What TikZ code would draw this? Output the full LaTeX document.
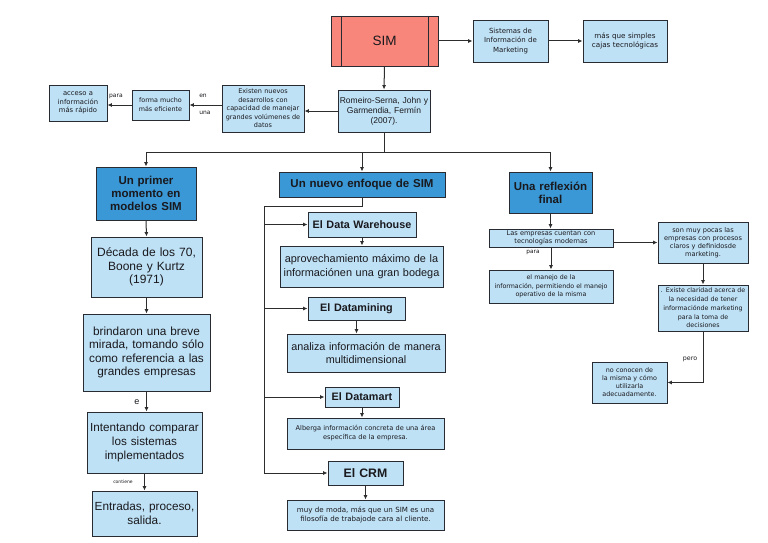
\documentclass[tikz,border=0pt]{standalone}
\usepackage{fontspec}
\setmainfont{Liberation Sans}
\newfontfamily\dv{DejaVu Sans}
\usetikzlibrary{arrows.meta}
\definecolor{lb}{RGB}{191,225,245}
\definecolor{db}{RGB}{58,152,214}
\definecolor{salm}{RGB}{248,134,122}
\definecolor{bordc}{RGB}{40,44,50}
\definecolor{linec}{RGB}{45,45,45}
\definecolor{txtc}{RGB}{25,25,30}
\newcommand\mybox[7]{%
 \pgfmathsetmacro\bxw{#4-#2}\pgfmathsetmacro\bxh{#5-#3}%
 \pgfmathsetmacro\bxcx{(#2+#4)/2}\pgfmathsetmacro\bxcy{-(#3+#5)/2}%
 \pgfmathsetmacro\bxtw{#4-#2-3}%
 \node[#6, minimum width=\bxw pt, minimum height=\bxh pt, text width=\bxtw pt, inner sep=0pt, align=center] (#1) at (\bxcx pt,\bxcy pt) {#7};}
\tikzset{
 base/.style={draw=bordc, line width=0.9pt, text=txtc},
 lbox/.style={base, fill=lb},
 hbox/.style={base, fill=db, font=\bfseries\fontsize{11.5}{13}\selectfont},
 sbox/.style={lbox, font=\bfseries\fontsize{10.8}{13}\selectfont},
 conn/.style={draw=linec, line width=1pt},
 arr/.style={conn, -{Latex[length=4.5pt,width=4pt]}},
 lbl/.style={text=txtc, inner sep=0pt},
}
\begin{document}
\begin{tikzpicture}[x=1pt,y=1pt]
\useasboundingbox (0,0) rectangle (768,-543);
% top
\mybox{sim}{331}{16}{438}{66}{base,fill=salm,font=\fontsize{13.5}{16}\selectfont}{SIM}
\draw[bordc, line width=0.9pt] ([xshift=11pt]sim.north west) -- ([xshift=11pt]sim.south west);
\draw[bordc, line width=0.9pt] ([xshift=-10pt]sim.north east) -- ([xshift=-10pt]sim.south east);
\mybox{sis}{473}{20}{548}{62}{lbox,font=\dv\fontsize{7}{9.3}\selectfont}{Sistemas de\\Información de\\Marketing}
\mybox{mas}{583}{20}{667}{62}{lbox,font=\dv\fontsize{7.2}{9.3}\selectfont}{más que simples\\cajas tecnológicas}
\mybox{rom}{338}{90}{430}{132}{lbox,font=\fontsize{8.5}{10}\selectfont}{Romeiro-Serna, John y\\Garmendia, Fermín\\(2007).}
\mybox{exi}{222}{85}{304}{132}{lbox,font=\dv\fontsize{6.5}{8.5}\selectfont}{Existen nuevos\\desarrollos con\\capacidad de manejar\\grandes volúmenes de\\datos}
\mybox{forma}{132}{90}{189}{120}{lbox,font=\dv\fontsize{6.4}{9}\selectfont}{forma mucho\\más eficiente}
\mybox{acc}{49}{85}{107}{121}{lbox,font=\dv\fontsize{6.8}{8.4}\selectfont}{acceso a\\información\\más rápido}
% left column
\mybox{h1}{96}{167}{196}{220}{hbox}{Un primer\\momento en\\modelos SIM}
\mybox{dec}{91}{237}{202}{297}{lbox,font=\fontsize{12}{13.5}\selectfont}{Década de los 70,\\Boone y Kurtz\\(1971)}
\mybox{brin}{83}{314}{210}{391}{lbox,font=\fontsize{11.8}{13.3}\selectfont}{brindaron una breve\\mirada, tomando sólo\\como referencia a las\\grandes empresas}
\mybox{int}{87}{412}{202}{473}{lbox,font=\fontsize{11.7}{14}\selectfont}{Intentando comparar\\los sistemas\\implementados}
\mybox{ent}{92}{491}{197}{536}{lbox,font=\fontsize{11.8}{14}\selectfont}{Entradas, proceso,\\salida.}
% middle column
\mybox{h2}{279}{172}{445}{197}{hbox}{Un nuevo enfoque de SIM}
\mybox{dw}{308}{212}{416}{237}{sbox}{El Data Warehouse}
\mybox{apr}{280}{246}{443}{287}{lbox,font=\fontsize{10.9}{13.3}\selectfont}{aprovechamiento máximo de la\\informaciónen una gran bodega}
\mybox{dm}{308}{297}{405}{320}{sbox}{El Datamining}
\mybox{ana}{287}{334}{445}{372}{lbox,font=\fontsize{10.8}{13}\selectfont}{analiza información de manera\\multidimensional}
\mybox{dmart}{325}{387}{399}{407}{sbox}{El Datamart}
\mybox{alb}{287}{418}{444}{449}{lbox,font=\dv\fontsize{6.6}{9}\selectfont}{Alberga información concreta de una área\\específica de la empresa.}
\mybox{crm}{328}{461}{403}{485}{lbox,font=\bfseries\fontsize{12.3}{14}\selectfont}{El CRM}
\mybox{muy}{287}{500}{444}{530}{lbox,font=\dv\fontsize{7.1}{9.5}\selectfont}{muy de moda, más que un SIM es una\\filosofía de trabajode cara al cliente.}
% right column
\mybox{h3}{509}{172}{592}{213}{hbox}{Una reflexión\\final}
\mybox{las}{489}{229}{613}{247}{lbox,font=\dv\fontsize{6.6}{8}\selectfont}{Las empresas cuentan con\\tecnologías modernas}
\mybox{man}{489}{270}{613}{303}{lbox,font=\dv\fontsize{6.3}{8.5}\selectfont}{el manejo de la\\información, permitiendo el manejo\\operativo de la misma}
\mybox{son}{658}{222}{748}{263}{lbox,font=\dv\fontsize{6.6}{8}\selectfont}{son muy pocas las\\empresas con procesos\\claros y definidosde\\marketing.}
\mybox{ex2}{658}{285}{748}{331}{lbox,font=\dv\fontsize{6.3}{8.8}\selectfont}{. Existe claridad acerca de\\la necesidad de tener\\informaciónde marketing\\para la toma de\\decisiones}
\mybox{noc}{592}{362}{667}{403}{lbox,font=\dv\fontsize{6.4}{8}\selectfont}{no conocen de\\la misma y cómo\\utilizarla\\adecuadamente.}
% labels
\node[lbl,font=\dv\fontsize{6}{7}\selectfont] (len) at (203,-96) {en};
\node[lbl,font=\dv\fontsize{6}{7}\selectfont] (luna) at (205,-113) {una};
\node[lbl,font=\dv\fontsize{6}{7}\selectfont] (lpara) at (116,-96) {para};
\node[lbl,font=\fontsize{9}{10}\selectfont] (le) at (137,-402) {e};
\node[lbl,font=\dv\fontsize{4.5}{5}\selectfont] (lcont) at (123,-482) {contiene};
\node[lbl,font=\dv\fontsize{5.8}{7}\selectfont] (lpara2) at (533,-252) {para};
\node[lbl,font=\dv\fontsize{6.3}{7}\selectfont] (lpero) at (690,-359) {pero};
% connectors top
\draw[arr] (sim.east) -- (sis.west);
\draw[arr] (sis.east) -- (mas.west);
\draw[arr] (sim.south) -- (rom.north);
\draw[arr] (rom.west) -- (rom.west -| exi.east);
\draw[arr] (exi.west |- forma.east) -- (forma.east);
\draw[arr] (forma.west) -- (forma.west -| acc.east);
\coordinate (hub) at (384,-152);
\draw[conn] (rom.south) -- (rom.south |- hub);
\draw[arr] (hub) -| (h1.north);
\draw[arr] (hub) -| (h3.north);
\draw[arr] (h2.north |- hub) -- (h2.north);
% left
\draw[arr] (h1.south) -- (dec.north);
\draw[arr] (dec.south) -- (brin.north);
\draw[arr] (brin.south) -- (brin.south |- int.north);
\draw[arr] (int.south) -- (int.south |- ent.north);
% middle
\coordinate (tk) at (264,-206);
\draw[conn] (h2.south) |- (tk) -- (tk |- crm.west);
\draw[arr] (tk |- dw.west) -- (dw.west);
\draw[arr] (tk |- dm.west) -- (dm.west);
\draw[arr] (tk |- dmart.west) -- (dmart.west);
\draw[arr] (tk |- crm.west) -- (crm.west);
\draw[arr] (dw.south) -- (dw.south |- apr.north);
\draw[arr] (dm.south) -- (dm.south |- ana.north);
\draw[arr] (dmart.south) -- (dmart.south |- alb.north);
\draw[arr] (crm.south) -- (crm.south |- muy.north);
% right
\draw[arr] (h3.south) -- (h3.south |- las.north);
\draw[arr] (las.south) -- (las.south |- man.north);
\draw[arr] (son.west -| las.east) -- (son.west);
\draw[arr] (son.south) -- (ex2.north);
\draw[arr] (ex2.south) |- (noc.east);
\end{tikzpicture}
\end{document}
